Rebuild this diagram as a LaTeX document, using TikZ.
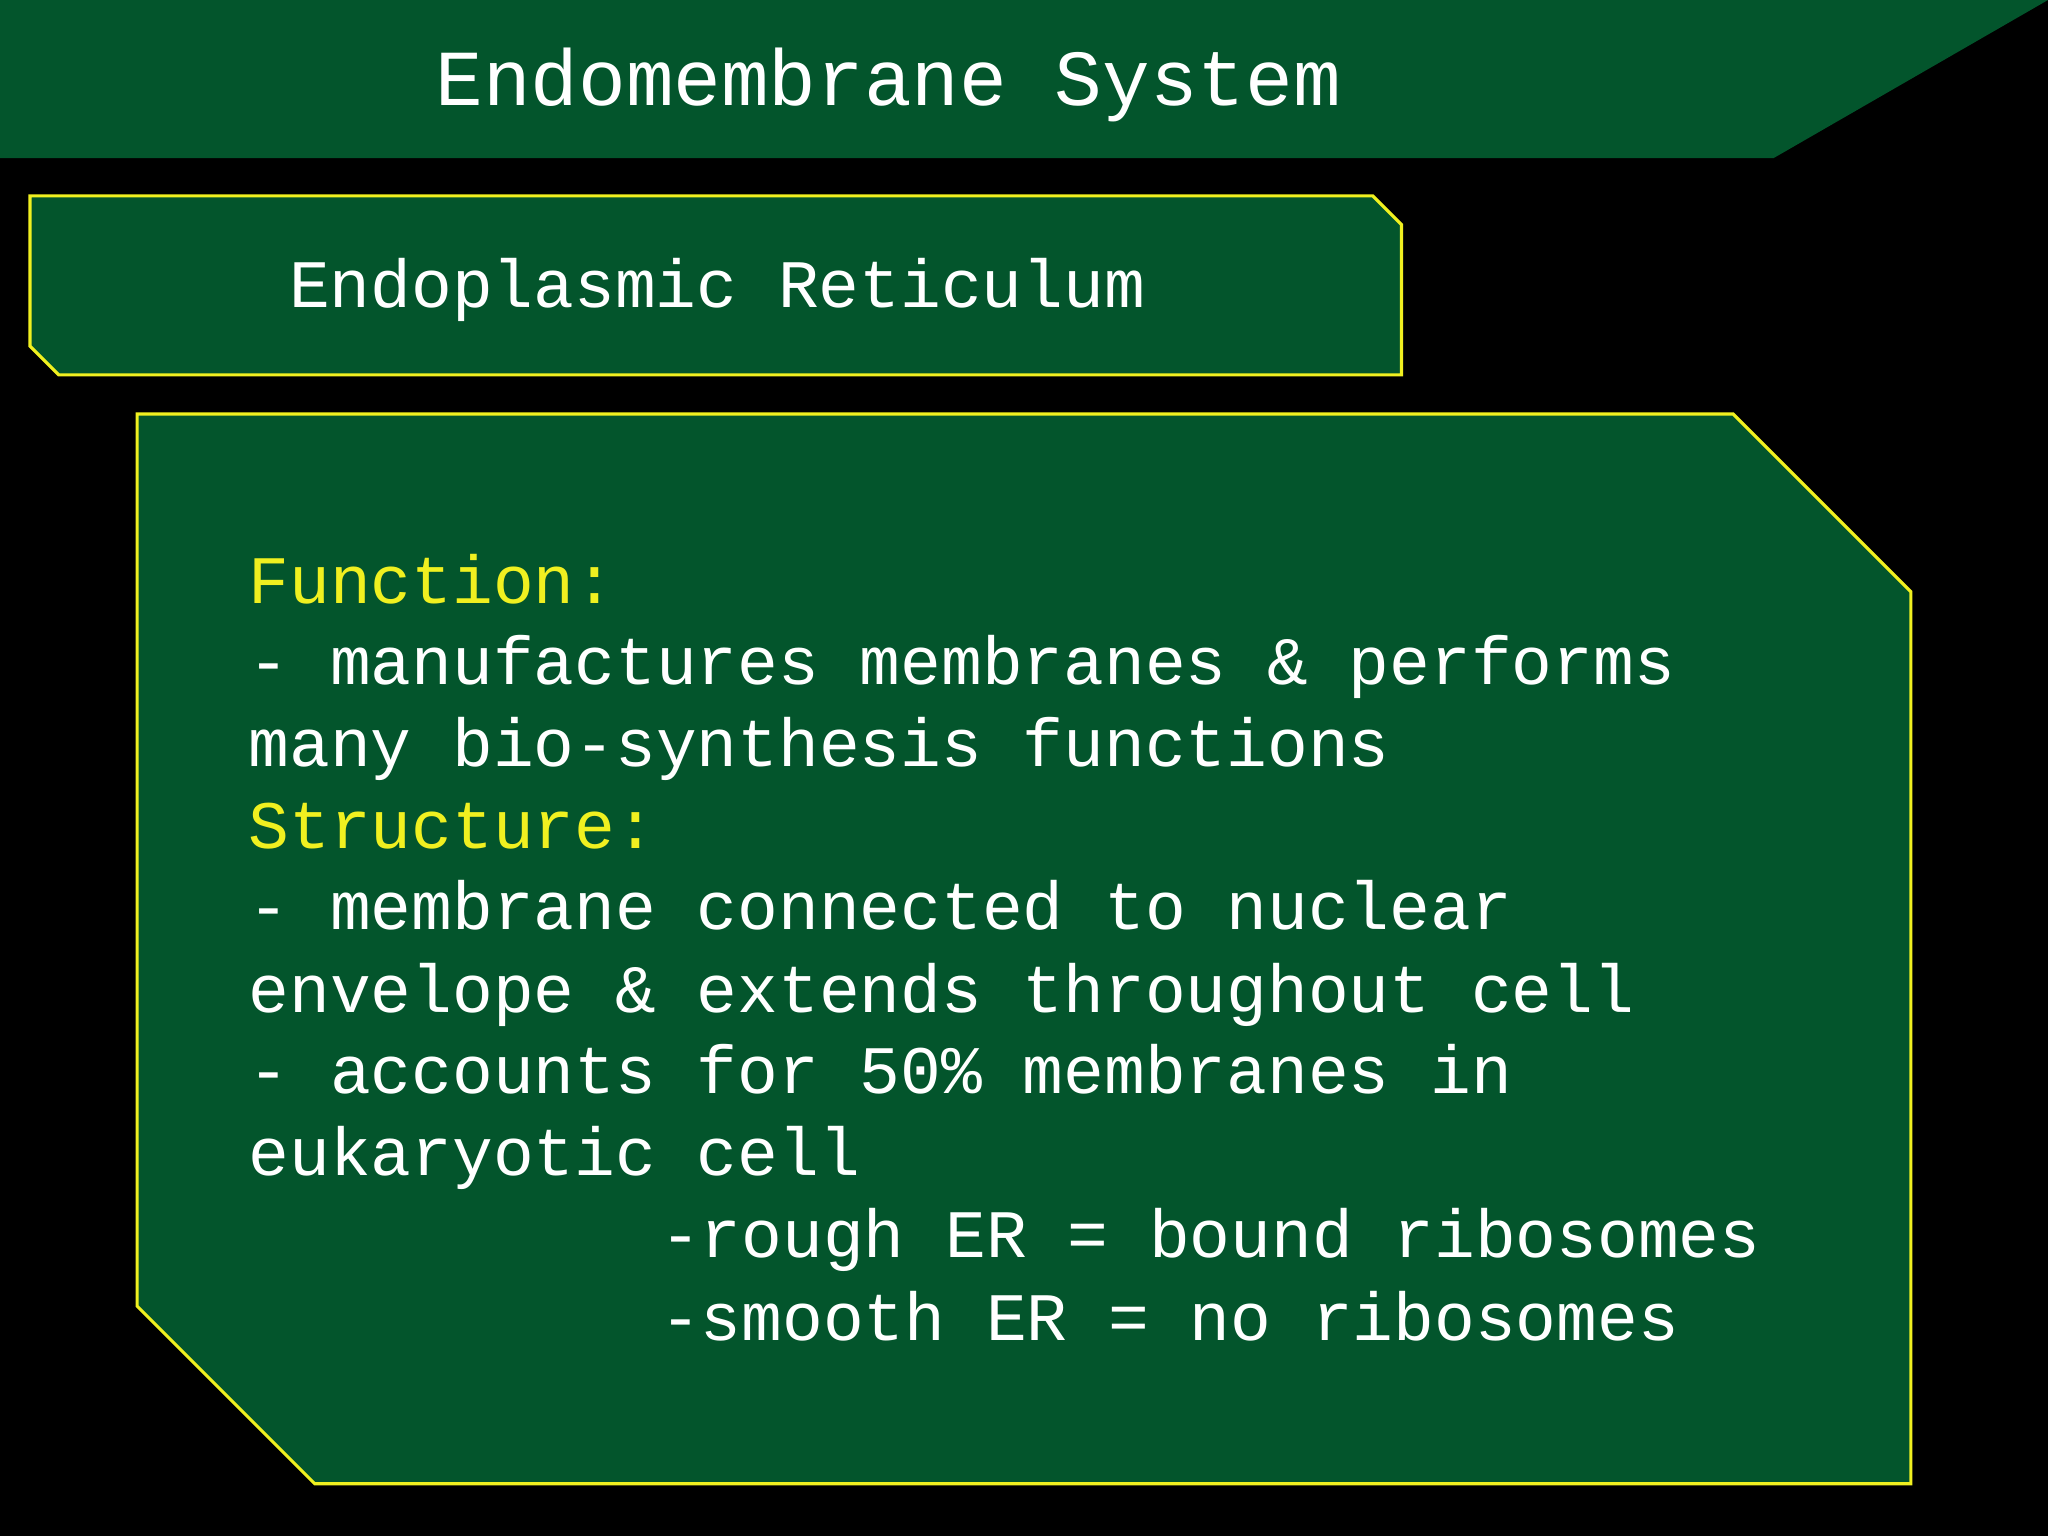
\documentclass[tikz,border=0pt]{standalone}
\usepackage{fontspec}
\setmonofont{Liberation Mono}
\definecolor{bg}{HTML}{03552C}
\definecolor{yl}{HTML}{F0F020}
\begin{document}
\begin{tikzpicture}[x=0.5pt,y=-0.5pt,
  ln/.style={anchor=west,inner sep=0pt,font=\ttfamily\fontsize{26}{26}\selectfont,text=white,text height=18pt,text depth=5pt},
  bx/.style={fill=bg,draw=yl,line width=1.2pt}]
\useasboundingbox (0,0) rectangle (1568,1176);
\fill[black] (0,0) rectangle (1568,1176);
\fill[bg] (0,0)--(1568,0)--(1358,121)--(0,121)--cycle;
\node[inner sep=0pt,font=\ttfamily\fontsize{30.4}{30}\selectfont,text=white] (title) at (680,65) {Endomembrane System};
\draw[bx] (23,150)--(1051,150)--(1073,172)--(1073,287)--(45,287)--(23,265)--cycle;
\node[inner sep=0pt,font=\ttfamily\fontsize{26}{26}\selectfont,text=white] (er) at (549,222) {Endoplasmic Reticulum};
\draw[bx] (105,317)--(1327,317)--(1463,453)--(1463,1136)--(241,1136)--(105,1000)--cycle;
\node[ln,text=yl] (l1) at (190,449) {Function:};
\node[ln] (l2) at (190,511) {- manufactures membranes \& performs};
\node[ln] (l3) at (190,574) {many bio-synthesis functions};
\node[ln,text=yl] (l4) at (190,637) {Structure:};
\node[ln] (l5) at (190,699) {- membrane connected to nuclear};
\node[ln] (l6) at (190,762) {envelope \& extends throughout cell};
\node[ln] (l7) at (190,824) {- accounts for 50\% membranes in};
\node[ln] (l8) at (190,887) {eukaryotic cell};
\node[ln] (l9) at (505,950) {-rough ER = bound ribosomes};
\node[ln] (l10) at (505,1013) {-smooth ER = no ribosomes};
\end{tikzpicture}
\end{document}
